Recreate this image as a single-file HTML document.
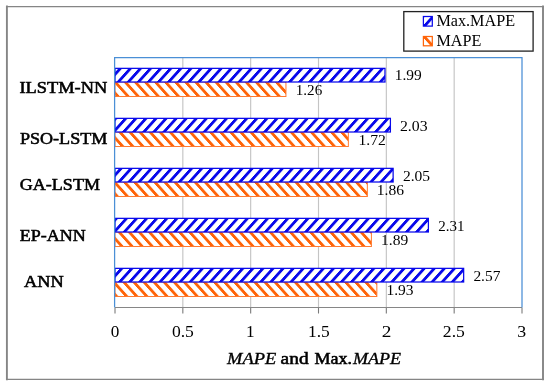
<!DOCTYPE html>
<html><head><meta charset="utf-8"><style>
html,body{margin:0;padding:0;background:#fff;}
body{width:550px;height:385px;overflow:hidden;position:relative;}
svg{position:absolute;left:0;top:0;}
text{font-family:"Liberation Serif","DejaVu Serif",serif;fill:#000;}
</style></head><body>
<svg width="550" height="385" viewBox="0 0 550 385">
<defs>
<pattern id="pb" patternUnits="userSpaceOnUse" width="10.080" height="40" patternTransform="skewX(-41.99) translate(8.72,0)">
<rect x="0" y="0" width="3.800" height="40" fill="#0808EA"/>
</pattern>
<pattern id="po" patternUnits="userSpaceOnUse" width="10.080" height="40" patternTransform="skewX(41.99) translate(9.22,0)">
<rect x="0" y="0" width="3.800" height="40" fill="#FF6408"/>
</pattern>
<pattern id="lb" patternUnits="userSpaceOnUse" width="10.080" height="40" patternTransform="skewX(-41.99) translate(2.55,0)">
<rect x="0" y="0" width="3.800" height="40" fill="#0808EA"/>
</pattern>
<pattern id="lo" patternUnits="userSpaceOnUse" width="10.080" height="40" patternTransform="skewX(41.99) translate(6.39,0)">
<rect x="0" y="0" width="3.800" height="40" fill="#FF6408"/>
</pattern>
</defs>
<rect x="0" y="0" width="550" height="385" fill="#fff"/>
<path d="M6.9 5.6V380.3M543 5.6V380.3" stroke="#858585" stroke-width="1.9" fill="none"/>
<path d="M6 6.55H544M6 379.4H544" stroke="#858585" stroke-width="1.35" fill="none"/>
<line x1="182.83" y1="57.50" x2="182.83" y2="307.50" stroke="#c4c4c4" stroke-width="1.15"/>
<line x1="250.67" y1="57.50" x2="250.67" y2="307.50" stroke="#c4c4c4" stroke-width="1.15"/>
<line x1="318.50" y1="57.50" x2="318.50" y2="307.50" stroke="#c4c4c4" stroke-width="1.15"/>
<line x1="386.33" y1="57.50" x2="386.33" y2="307.50" stroke="#c4c4c4" stroke-width="1.15"/>
<line x1="454.17" y1="57.50" x2="454.17" y2="307.50" stroke="#c4c4c4" stroke-width="1.15"/>
<line x1="115.00" y1="307.50" x2="115.00" y2="313.50" stroke="#7a7a7a" stroke-width="1.1"/>
<line x1="182.83" y1="307.50" x2="182.83" y2="313.50" stroke="#7a7a7a" stroke-width="1.1"/>
<line x1="250.67" y1="307.50" x2="250.67" y2="313.50" stroke="#7a7a7a" stroke-width="1.1"/>
<line x1="318.50" y1="307.50" x2="318.50" y2="313.50" stroke="#7a7a7a" stroke-width="1.1"/>
<line x1="386.33" y1="307.50" x2="386.33" y2="313.50" stroke="#7a7a7a" stroke-width="1.1"/>
<line x1="454.17" y1="307.50" x2="454.17" y2="313.50" stroke="#7a7a7a" stroke-width="1.1"/>
<line x1="522.00" y1="307.50" x2="522.00" y2="313.50" stroke="#7a7a7a" stroke-width="1.1"/>
<line x1="115.00" y1="307.50" x2="522.00" y2="307.50" stroke="#868686" stroke-width="1.2"/>
<rect x="115.00" y="82.00" width="170.94" height="14.50" fill="#fff"/>
<rect x="115.00" y="82.00" width="170.94" height="14.50" fill="url(#po)" stroke="#FF7A30" stroke-width="1"/>
<rect x="115.00" y="68.35" width="269.98" height="13.65" fill="#fff"/>
<rect x="115.00" y="68.35" width="269.98" height="13.65" fill="url(#pb)" stroke="#0808EA" stroke-width="1.25"/>
<rect x="115.00" y="132.00" width="233.35" height="14.50" fill="#fff"/>
<rect x="115.00" y="132.00" width="233.35" height="14.50" fill="url(#po)" stroke="#FF7A30" stroke-width="1"/>
<rect x="115.00" y="118.35" width="275.40" height="13.65" fill="#fff"/>
<rect x="115.00" y="118.35" width="275.40" height="13.65" fill="url(#pb)" stroke="#0808EA" stroke-width="1.25"/>
<rect x="115.00" y="182.00" width="252.34" height="14.50" fill="#fff"/>
<rect x="115.00" y="182.00" width="252.34" height="14.50" fill="url(#po)" stroke="#FF7A30" stroke-width="1"/>
<rect x="115.00" y="168.35" width="278.12" height="13.65" fill="#fff"/>
<rect x="115.00" y="168.35" width="278.12" height="13.65" fill="url(#pb)" stroke="#0808EA" stroke-width="1.25"/>
<rect x="115.00" y="232.00" width="256.41" height="14.50" fill="#fff"/>
<rect x="115.00" y="232.00" width="256.41" height="14.50" fill="url(#po)" stroke="#FF7A30" stroke-width="1"/>
<rect x="115.00" y="218.35" width="313.39" height="13.65" fill="#fff"/>
<rect x="115.00" y="218.35" width="313.39" height="13.65" fill="url(#pb)" stroke="#0808EA" stroke-width="1.25"/>
<rect x="115.00" y="282.00" width="261.84" height="14.50" fill="#fff"/>
<rect x="115.00" y="282.00" width="261.84" height="14.50" fill="url(#po)" stroke="#FF7A30" stroke-width="1"/>
<rect x="115.00" y="268.35" width="348.66" height="13.65" fill="#fff"/>
<rect x="115.00" y="268.35" width="348.66" height="13.65" fill="url(#pb)" stroke="#0808EA" stroke-width="1.25"/>
<polyline points="114.60,307.50 114.60,57.50 522.00,57.50 522.00,307.50" fill="none" stroke="#4a8fd6" stroke-width="1.25"/>
<rect x="403.8" y="11.6" width="129.3" height="39.5" fill="#fff" stroke="#222" stroke-width="1.3"/>
<rect x="423.4" y="16.5" width="8.9" height="9.6" fill="url(#lb)" stroke="#0808EA" stroke-width="1.25"/>
<rect x="423.4" y="36.5" width="8.9" height="9.3" fill="url(#lo)" stroke="#FF6408" stroke-width="1.25"/>
<text transform="translate(19.444,93.262) scale(1.1010,1)" font-size="16.700" stroke="#000" stroke-width="0.55">ILSTM-NN</text>
<text transform="translate(19.904,144.242) scale(1.0841,1)" font-size="16.700" stroke="#000" stroke-width="0.55">PSO-LSTM</text>
<text transform="translate(19.788,190.426) scale(1.0801,1)" font-size="16.700" stroke="#000" stroke-width="0.55">GA-LSTM</text>
<text transform="translate(19.874,241.423) scale(1.0767,1)" font-size="16.700" stroke="#000" stroke-width="0.55">EP-ANN</text>
<text transform="translate(24.049,287.175) scale(1.0954,1)" font-size="16.700" stroke="#000" stroke-width="0.55">ANN</text>
<text transform="translate(394.657,80.428) scale(1.0108,1)" font-size="15.300">1.99</text>
<text transform="translate(295.709,95.426) scale(0.9902,1)" font-size="15.300">1.26</text>
<text transform="translate(399.960,130.908) scale(1.0312,1)" font-size="15.300">2.03</text>
<text transform="translate(358.418,145.395) scale(1.0263,1)" font-size="15.300">1.72</text>
<text transform="translate(402.965,181.093) scale(1.0153,1)" font-size="15.300">2.05</text>
<text transform="translate(376.786,195.443) scale(1.0161,1)" font-size="15.300">1.86</text>
<text transform="translate(438.264,231.070) scale(0.9806,1)" font-size="15.300">2.31</text>
<text transform="translate(380.985,245.419) scale(1.0163,1)" font-size="15.300">1.89</text>
<text transform="translate(473.395,281.171) scale(1.0099,1)" font-size="15.300">2.57</text>
<text transform="translate(386.394,295.439) scale(1.0141,1)" font-size="15.300">1.93</text>
<text transform="translate(110.703,337.172) scale(1.0550,1)" font-size="16.300">0</text>
<text transform="translate(171.899,337.048) scale(1.0794,1)" font-size="16.300">0.5</text>
<text transform="translate(246.033,337.048) scale(1.0575,1)" font-size="16.300">1</text>
<text transform="translate(308.020,336.922) scale(1.0691,1)" font-size="16.300">1.5</text>
<text transform="translate(381.650,336.797) scale(1.1832,1)" font-size="16.300">2</text>
<text transform="translate(442.854,337.048) scale(1.0801,1)" font-size="16.300">2.5</text>
<text transform="translate(517.286,337.047) scale(1.0934,1)" font-size="16.300">3</text>
<text transform="translate(436.388,25.724) scale(1.0179,1)" font-size="15.900">Max.MAPE</text>
<text transform="translate(436.503,45.912) scale(1.0160,1)" font-size="15.900">MAPE</text>
<text transform="translate(227.116,364.237) scale(1.0846,1)" font-size="17.000" font-style="italic" stroke="#000" stroke-width="0.35">MAPE</text>
<text transform="translate(280.602,364.225) scale(1.1397,1)" font-size="17.000" stroke="#000" stroke-width="0.55">and</text>
<text transform="translate(314.515,364.100) scale(1.0604,1)" font-size="17.000" stroke="#000" stroke-width="0.55">Max.</text>
<text transform="translate(352.893,364.237) scale(1.0630,1)" font-size="17.000" font-style="italic" stroke="#000" stroke-width="0.35">MAPE</text>
</svg>
</body></html>
